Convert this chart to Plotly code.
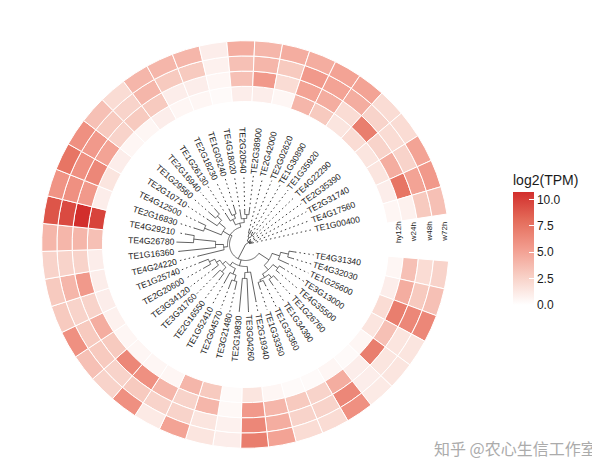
import numpy as np
import plotly.graph_objects as go

# genes in clockwise order, starting just below the gap (east side)
genes = ["TE4G31340", "TE4G32030", "TE1G25600", "TE3G13000", "TE4G35500",
         "TE1G26760", "TE1G34390", "TE1G33360", "TE1G33350", "TE2G19340",
         "TE3G04260", "TE2G19830", "TE3G21480", "TE2G04570", "TE1G52410",
         "TE2G16550", "TE3G31760", "TE3G34120", "TE2G20600", "TE1G25740",
         "TE4G24220", "TE1G16360", "TE4G26780", "TE4G29210", "TE2G16830",
         "TE4G12500", "TE2G10710", "TE1G29560", "TE2G16940", "TE1G26130",
         "TE2G18230", "TE1G03240", "TE4G18020", "TE2G20540", "TE2G38900",
         "TE2G42000", "TE2G02620", "TE1G30890", "TE1G35920", "TE4G22290",
         "TE2G35390", "TE2G31740", "TE4G17560", "TE1G00400"]

samples = ["hy12h", "w24h", "w48h", "w72h"]

# log2(TPM) (inner -> outer)
hy12h = [0.5, 1.0, 2.0, 1.5, 0.5, 0.3, 0.5, 0.3, 0.3, 0.5,
         1.5, 0.3, 3.0, 4.0, 0.5, 0.5, 0.5, 0.5, 0.8, 1.0,
         1.0, 1.0, 3.5, 9.8, 1.0, 1.5, 1.0, 0.5, 0.5, 1.0,
         0.5, 0.5, 0.3, 1.0, 1.0, 0.5, 4.0, 3.0, 1.5, 2.0,
         1.5, 1.5, 1.0, 0.5]
w24h = [3.5, 4.5, 7.0, 3.5, 7.0, 1.0, 4.5, 2.5, 3.0, 4.0,
        5.5, 0.4, 4.0, 2.5, 4.0, 6.0, 6.5, 3.0, 4.5, 2.5,
        5.5, 2.5, 4.0, 10.7, 5.5, 6.5, 5.0, 2.5, 3.0, 3.0,
        1.0, 1.0, 0.5, 3.5, 5.5, 2.0, 5.0, 4.5, 2.0, 7.0,
        2.5, 4.5, 7.5, 0.8]
w48h = [2.0, 3.0, 6.5, 1.5, 1.5, 1.0, 6.5, 2.5, 2.5, 4.5,
        6.5, 0.8, 1.5, 2.5, 2.5, 3.0, 2.5, 3.0, 3.0, 2.5,
        4.0, 2.5, 4.0, 9.5, 6.0, 6.0, 5.5, 3.0, 2.5, 4.0,
        3.0, 3.0, 0.8, 3.5, 4.0, 3.0, 5.5, 5.0, 4.5, 2.5,
        2.0, 2.5, 5.0, 3.0]
w72h = [2.5, 3.5, 6.5, 1.5, 1.5, 1.2, 6.0, 2.0, 2.0, 5.0,
        7.0, 1.0, 1.5, 5.0, 1.2, 6.0, 2.5, 3.5, 6.0, 3.0,
        3.0, 2.5, 4.0, 9.0, 5.8, 7.5, 6.0, 3.5, 2.0, 4.0,
        4.0, 4.0, 1.0, 4.5, 4.0, 4.5, 4.5, 5.0, 5.0, 2.0,
        2.0, 5.0, 5.5, 3.5]

# tree: tip radius per gene, and nested [node radius, children...] (children = gene numbers)
tip_r = [50, 49, 46, 45, 43, 47, 48, 45, 46, 57,
         66, 66, 45, 46, 43, 43, 45, 41, 47, 49,
         48, 66, 68, 60, 53, 51, 45, 48, 46, 36,
         38, 40, 34, 34, 36, 15, 14, 13, 14, 6,
         5, 5, 6, 7]
tree = [0,
        [4, 40, 41, 42, 43, 44, [8, [12, 36, 37], [11, 38, 39]]],
        [16,
         [28, [36, [44, 1, 2], 3], [34, [40, 4, 5], [38, [42, 6, 7], [40, 8, 9]]]],
         [22, [28, 10, [34, 11, 12]],
          [26, [32, [38, 13, 14], 15], [30, [36, 16, 17], [34, 18, [40, 19, 20]]]]],
         [18, [22, 21, [30, 22, [52, 23, 24]]],
          [26, [44, 25, 26], [34, 27, [40, 28, 29]]],
          [22, [28, 30, [32, 31, 32]], [26, 33, [30, 34, 35]]]]]]

W, H = 600, 468
cx, cy = 237.5, 236.5      # circle centre in pixels
R_MAX = 205
start_deg = -4.7
n = len(genes)
step = 346.7 / n
theta = [(i + 0.5) * step for i in range(n)]
ring0, ring_w = 143, 15.2
label_r = 69

fig = go.Figure()

for k, vals in enumerate([hy12h, w24h, w48h, w72h]):
    fig.add_trace(go.Barpolar(
        r=[ring_w] * n, base=ring0 + k * ring_w, theta=theta, width=step,
        marker=dict(color=vals, coloraxis="coloraxis",
                    line=dict(color="white", width=1)),
        name=samples[k], showlegend=False, hoverinfo="skip"))

# dendrogram
seg_t, seg_r = [], []


def draw(node):
    if isinstance(node, int):
        return theta[node - 1], tip_r[node - 1]
    R = node[0]
    kids = [draw(c) for c in node[1:]]
    angs = [a for a, _ in kids]
    for a, rr in kids:
        seg_t.extend([a, a, None])
        seg_r.extend([R, rr, None])
    if R > 0:
        arc = np.linspace(min(angs), max(angs), int(max(angs) - min(angs)) + 2)
        seg_t.extend(list(arc) + [None])
        seg_r.extend([R] * len(arc) + [None])
    return float(np.mean(angs)), R


draw(tree)
fig.add_trace(go.Scatterpolar(theta=seg_t, r=seg_r, mode="lines",
                              line=dict(color="#3a3a3a", width=0.8),
                              showlegend=False, hoverinfo="skip"))

dot_t, dot_r = [], []
for i in range(n):
    dot_t.extend([theta[i], theta[i], None])
    dot_r.extend([tip_r[i], label_r, None])
fig.add_trace(go.Scatterpolar(theta=dot_t, r=dot_r, mode="lines",
                              line=dict(color="#3a3a3a", width=1, dash="1.5px,3px"),
                              showlegend=False, hoverinfo="skip"))

# gene labels (radial text)
annotations = []
for i, g in enumerate(genes):
    phi = -start_deg + theta[i]          # clockwise degrees from east
    rc = label_r + 3 + 22
    x = cx + rc * np.cos(np.radians(phi))
    y = cy + rc * np.sin(np.radians(phi))
    ang = phi if np.cos(np.radians(phi)) >= 0 else phi - 180
    if ang > 180:
        ang -= 360
    annotations.append(dict(text=g, x=x / W, y=1 - y / H, xref="paper", yref="paper",
                            showarrow=False, textangle=ang, xanchor="center",
                            yanchor="middle",
                            font=dict(family="Liberation Sans, Arial", size=8.6,
                                      color="#1a1a1a")))

for k, s in enumerate(samples):
    x = cx + ring0 + (k + 0.5) * ring_w + 2
    annotations.append(dict(text=s, x=x / W, y=1 - 224 / H, xref="paper", yref="paper",
                            showarrow=False, textangle=-90, xanchor="center",
                            yanchor="middle",
                            font=dict(family="Liberation Sans, Arial", size=8,
                                      color="#1a1a1a")))

annotations.append(dict(text="知乎 @农心生信工作室", x=0.985, y=1 - 440 / H,
                        xref="paper", yref="paper", showarrow=False,
                        xanchor="right", yanchor="middle",
                        font=dict(family="Noto Sans CJK SC", size=16, color="#ababab")))

fig.update_layout(
    width=W, height=H,
    margin=dict(l=0, r=0, t=0, b=0),
    paper_bgcolor="white",
    polar=dict(
        domain=dict(x=[(cx - R_MAX) / W, (cx + R_MAX) / W],
                    y=[1 - (cy + R_MAX) / H, 1 - (cy - R_MAX) / H]),
        bgcolor="white",
        bargap=0,
        radialaxis=dict(range=[0, R_MAX], visible=False),
        angularaxis=dict(visible=False, rotation=start_deg, direction="clockwise"),
    ),
    coloraxis=dict(
        cmin=0, cmax=10.7,
        colorscale=[[0, "#FFFFFF"], [0.25, "#F8D0C6"], [0.5, "#F29C8E"],
                    [0.75, "#E46C5A"], [1, "#D22E2C"]],
        colorbar=dict(
            title=dict(text="log2(TPM)", side="top",
                       font=dict(family="Liberation Sans, Arial", size=14, color="#1a1a1a")),
            x=505 / W, xanchor="left", y=1 - 297 / H, yanchor="bottom",
            lenmode="pixels", len=134, thickness=21, xpad=0, ypad=0,
            tickvals=[0, 2.5, 5, 7.5, 10],
            ticktext=["0.0", "2.5", "5.0", "7.5", "10.0"],
            ticks="inside", tickcolor="white", ticklen=5, outlinewidth=0,
            tickfont=dict(family="Liberation Sans, Arial", size=12, color="#1a1a1a"),
        ),
    ),
    annotations=annotations,
)

fig.write_html("out.html")
